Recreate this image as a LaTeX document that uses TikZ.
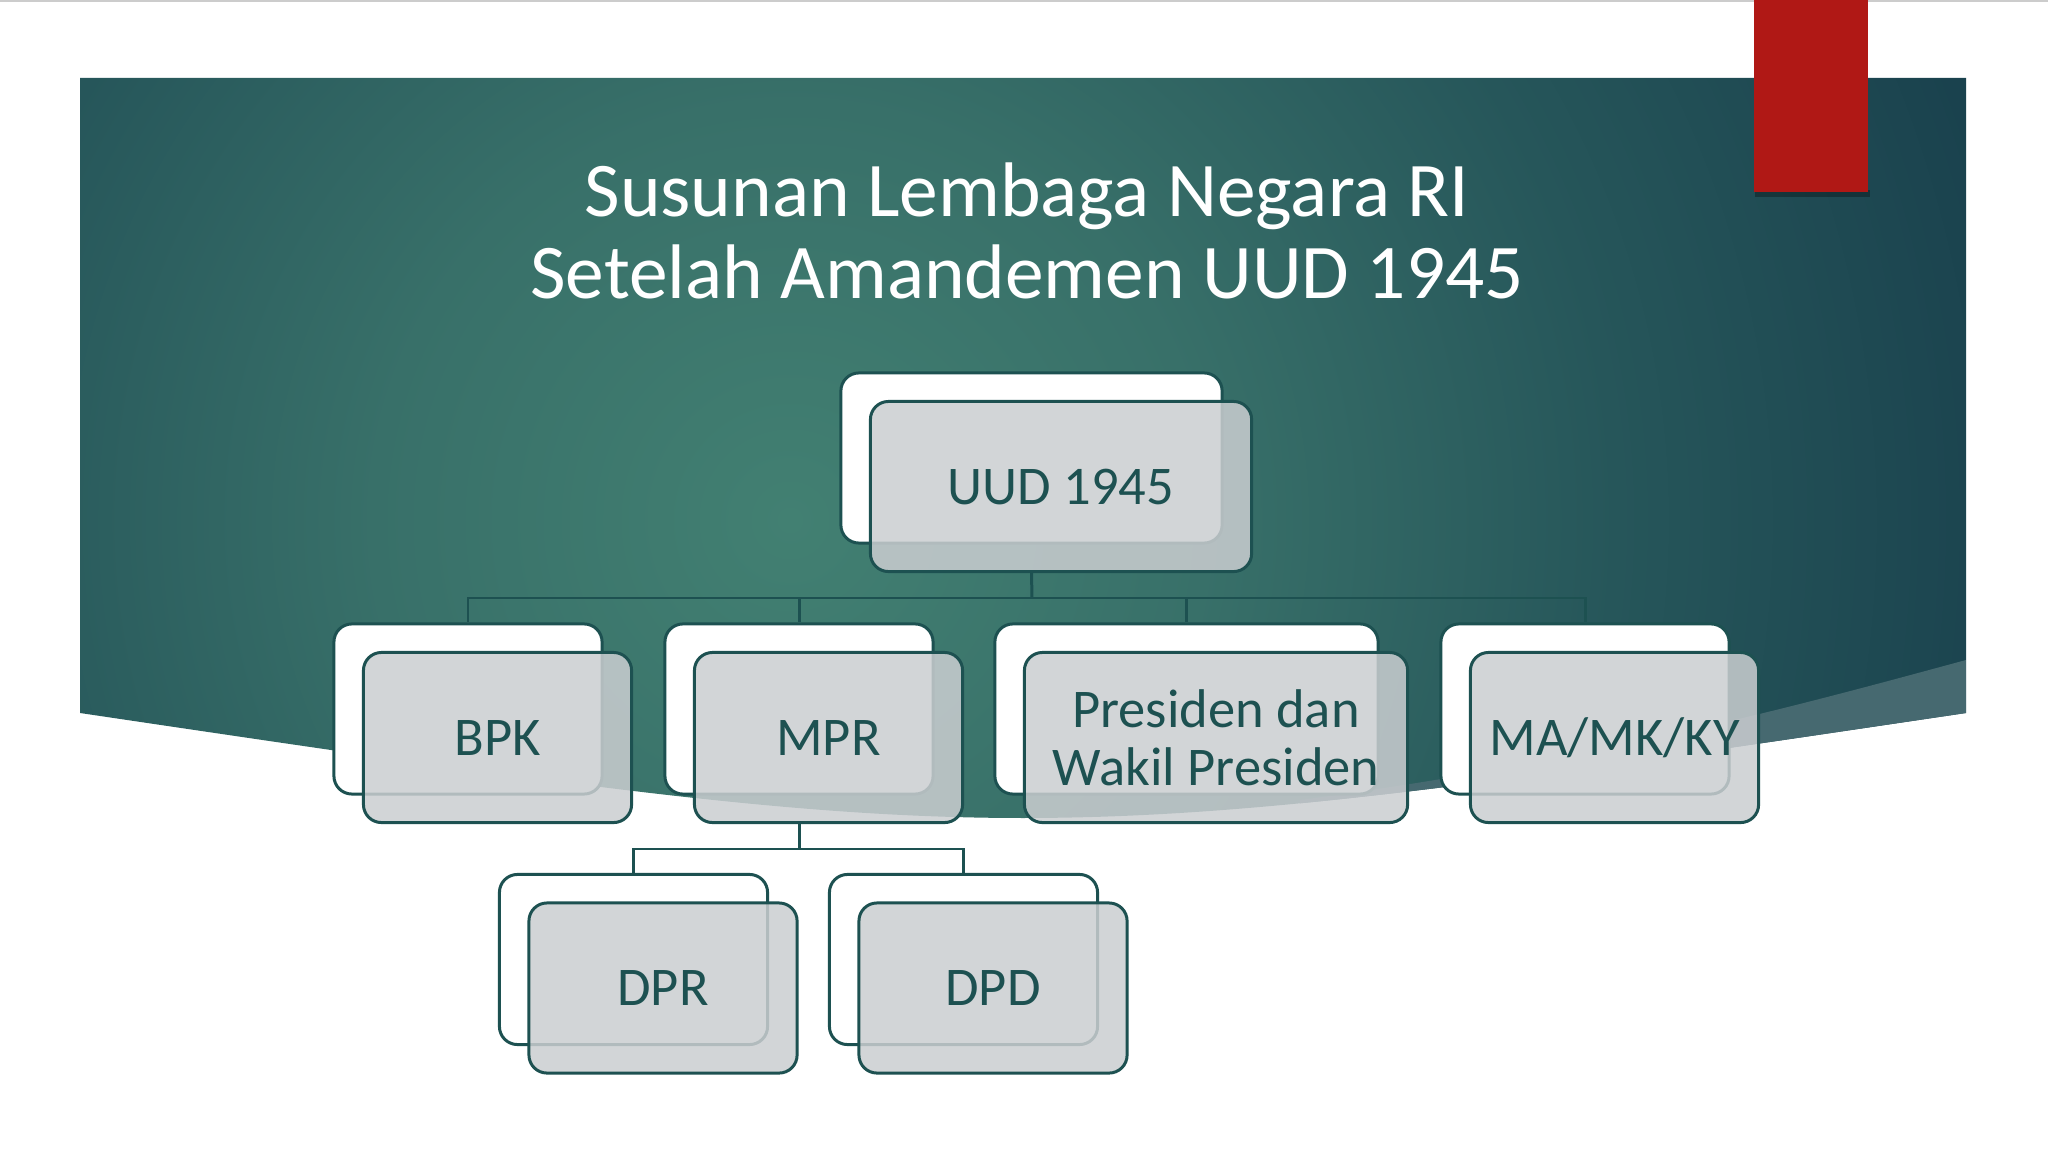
\documentclass[tikz,border=0pt]{standalone}
\usepackage{fontspec}
\setmainfont{Carlito}

\definecolor{bannerA}{RGB}{66,128,114}
\definecolor{bannerB}{RGB}{56,112,105}
\definecolor{bannerC}{RGB}{38,86,90}
\definecolor{bannerD}{RGB}{26,66,78}
\definecolor{bannerE}{RGB}{19,57,70}
\definecolor{bannerF}{RGB}{17,53,67}
\definecolor{bandcol}{RGB}{70,105,112}
\definecolor{tabred}{RGB}{176,24,21}
\definecolor{boxline}{RGB}{29,81,81}
\definecolor{boxgray}{RGB}{203,206,209}
\pgfdeclareradialshading{bannershade}{\pgfpoint{0bp}{0bp}}{color(0bp)=(bannerA); color(7.7bp)=(bannerB); color(15.3bp)=(bannerC); color(23bp)=(bannerD); color(30.7bp)=(bannerE); color(38.3bp)=(bannerF); color(50bp)=(bannerF)}

\newcommand{\titlefont}{\fontsize{22}{23.3}\selectfont}
\newcommand{\boxfont}{\fontsize{15.5}{16.5}\selectfont}

\begin{document}
\begin{tikzpicture}[x=0.01cm,y=-0.01cm]
                        \tikzstyle{backbox}=[draw=boxline, line width=0.85pt, fill=white, rounded corners=1.8mm, minimum height=1.7cm, inner sep=0pt]
                        \tikzstyle{frontbox}=[backbox, fill=boxgray, fill opacity=0.85, text opacity=1, text=boxline, font=\boxfont, align=center]
                        \tikzstyle{link}=[draw=boxline, line width=0.85pt]
                        \useasboundingbox (0,0) rectangle (2048,1152);
                        \fill[white] (0,0) rectangle (2048,1152);
                        \draw[black!20, line width=0.6pt] (0,1) -- (2048,1);
                        \begin{scope}
                            \clip (80,78) -- (1966,78) -- (1966,713) .. controls (1023,853) .. (80,713) -- cycle;
                            \shade[shading=bannershade] (790,520) circle (1350);
                            \fill[bandcol] (1966,660) .. controls (1800,705) and (1600,760) .. (1300,800) -- (1300,900) -- (1966,900) -- cycle;
                        \end{scope}
                        \fill[black, opacity=0.3] (1755,190) rectangle (1870,197);
                        \fill[tabred] (1754,0) rectangle (1868,192);
                        \node[text=white, font=\titlefont, align=center] (title) at (1027,231) {Susunan Lembaga Negara RI\\Setelah Amandemen UUD 1945};
                        \node[backbox, minimum width=3.81cm] (uud) at (1031.5,458) {};
                        \node[frontbox, minimum width=3.81cm] (uudf) at ([xshift=2.95mm,yshift=-2.85mm]uud.center) {UUD 1945};
                        \node[backbox, minimum width=2.68cm] (bpk) at (468,709) {};
                        \node[frontbox, minimum width=2.68cm] (bpkf) at ([xshift=2.95mm,yshift=-2.85mm]bpk.center) {BPK};
                        \node[backbox, minimum width=2.68cm] (mpr) at (799,709) {};
                        \node[frontbox, minimum width=2.68cm] (mprf) at ([xshift=2.95mm,yshift=-2.85mm]mpr.center) {MPR};
                        \node[backbox, minimum width=3.83cm] (pres) at (1186.5,709) {};
                        \node[frontbox, minimum width=3.83cm] (presf) at ([xshift=2.95mm,yshift=-2.85mm]pres.center) {Presiden dan\\Wakil Presiden};
                        \node[backbox, minimum width=2.88cm] (ma) at (1585,709) {};
                        \node[frontbox, minimum width=2.88cm] (maf) at ([xshift=2.95mm,yshift=-2.85mm]ma.center) {MA/MK/KY};
                        \node[backbox, minimum width=2.68cm] (dpr) at (633.5,959.5) {};
                        \node[frontbox, minimum width=2.68cm] (dprf) at ([xshift=2.95mm,yshift=-2.85mm]dpr.center) {DPR};
                        \node[backbox, minimum width=2.68cm] (dpd) at (963.5,959.5) {};
                        \node[frontbox, minimum width=2.68cm] (dpdf) at ([xshift=2.95mm,yshift=-2.85mm]dpd.center) {DPD};
                        \coordinate (fork) at (1032,598);
                        \coordinate (fork2) at (799,849);
                        \draw[link] (uud.center |- uudf.south) -- (fork);
                        \draw[link] (fork) -| (bpk.north);
                        \draw[link] (fork) -| (mpr.north);
                        \draw[link] (fork) -| (pres.north);
                        \draw[link] (fork) -| (ma.north);
                        \draw[link] (mpr.center |- mprf.south) -- (fork2);
                        \draw[link] (fork2) -| (dpr.north);
                        \draw[link] (fork2) -| (dpd.north);
                    \end{tikzpicture}
\end{document}
